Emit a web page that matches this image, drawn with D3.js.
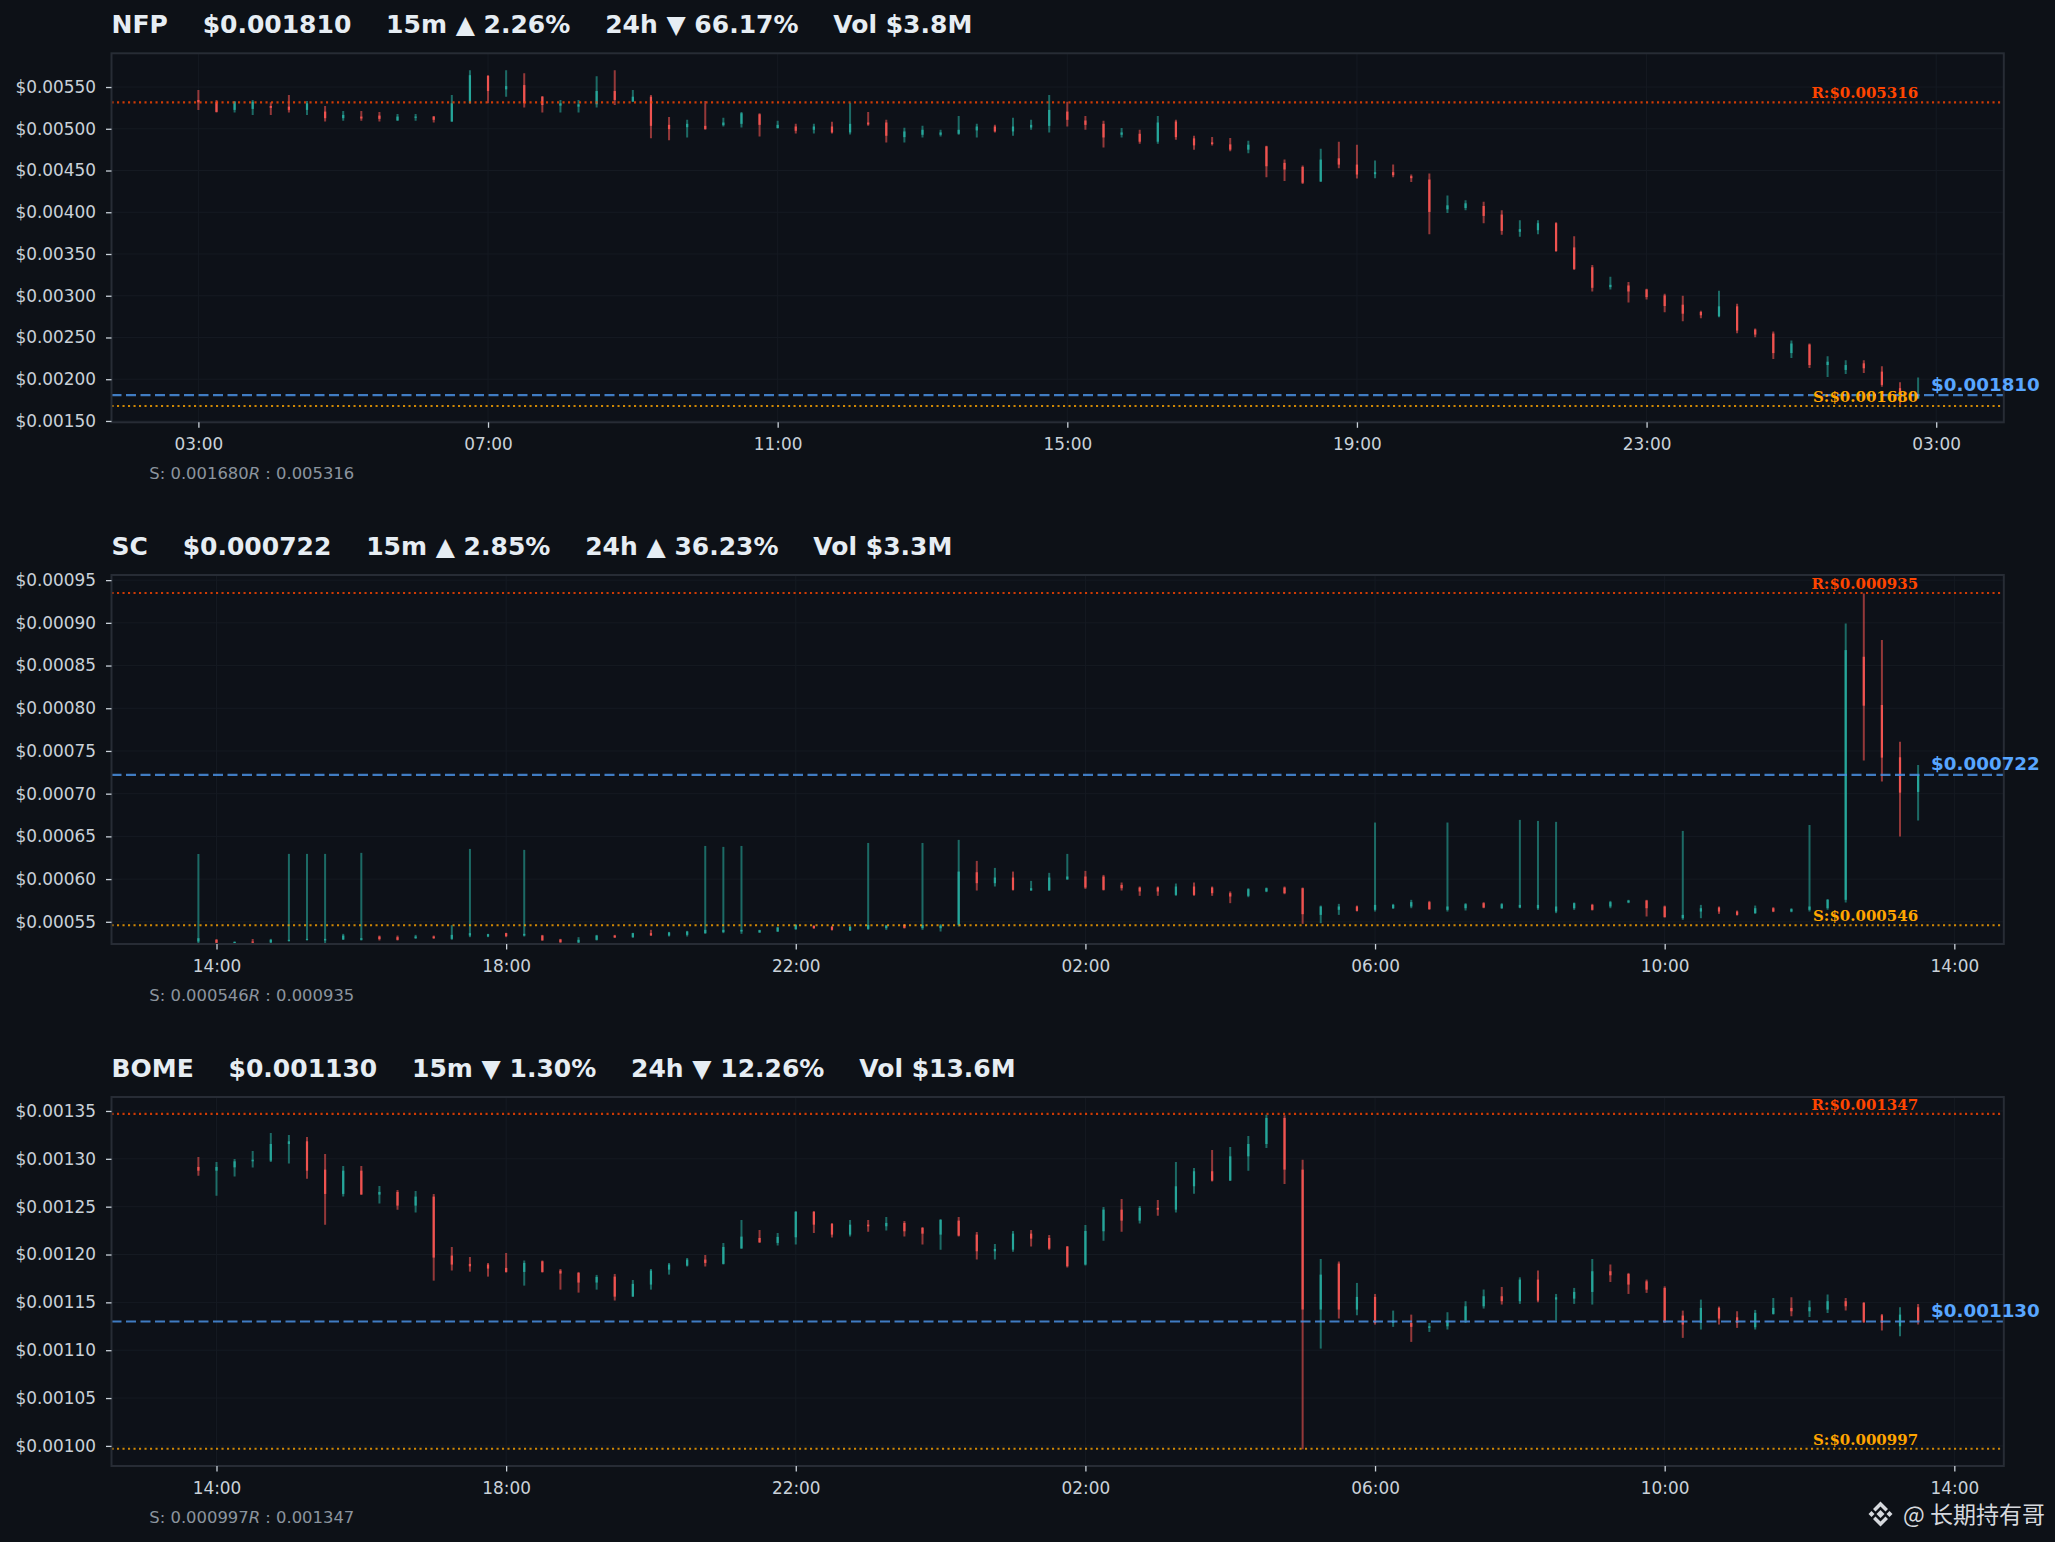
<!DOCTYPE html>
<html><head><meta charset="utf-8">
<script src="https://cdn.jsdelivr.net/npm/d3@7"></script>
<style>
html,body{margin:0;padding:0;background:#0d1117;}
svg{display:block;}
</style></head>
<body>
<svg id="chart" width="2055" height="1542"></svg>
<script>
// ---------------- DATA ----------------
const symbols = ["NFP", "SC", "BOME"];
const titles = [
  "NFP    $0.001810    15m \u25B2 2.26%    24h \u25BC 66.17%    Vol $3.8M",
  "SC    $0.000722    15m \u25B2 2.85%    24h \u25B2 36.23%    Vol $3.3M",
  "BOME    $0.001130    15m \u25BC 1.30%    24h \u25BC 12.26%    Vol $13.6M"
];
const lastPrices = [0.001810, 0.000722, 0.001130];
const supports = [0.001680, 0.000546, 0.000997];
const resistances = [0.005316, 0.000935, 0.001347];
const srTexts = [["0.001680", "0.005316"], ["0.000546", "0.000935"], ["0.000997", "0.001347"]];
const firstCandle = ["2024-01-01T03:00", "2024-01-01T13:45", "2024-01-01T13:45"];
const yDomains = [[0.001484, 0.005904], [0.000524, 0.000956], [0.000979, 0.0013646]];
const nfpYTicks = [0.0015, 0.0020, 0.0025, 0.0030, 0.0035, 0.0040, 0.0045, 0.0050, 0.0055];
const scYTicks = [0.00055, 0.00060, 0.00065, 0.00070, 0.00075, 0.00080, 0.00085, 0.00090, 0.00095];
const bomeYTicks = [0.00100, 0.00105, 0.00110, 0.00115, 0.00120, 0.00125, 0.00130, 0.00135];

const nfpOpen = [0.005345,0.005325,0.005226,0.005238,0.005273,0.005265,0.005226,0.005206,0.005127,0.005146,
0.005158,0.005099,0.005131,0.005146,0.005087,0.005305,0.005634,0.005472,0.005523,0.005384,
0.005277,0.005265,0.005293,0.005452,0.005325,0.005384,0.005047,0.005019,0.005035,0.005043,
0.005059,0.005174,0.005008,0.005027,0.004988,0.005027,0.004956,0.005075,0.005075,0.004900,
0.004928,0.004928,0.004940,0.004980,0.005027,0.004968,0.005015,0.005035,0.005206,0.005099,
0.005059,0.004928,0.004940,0.004845,0.005087,0.004885,0.004837,0.004813,0.004750,0.004789,
0.004591,0.004543,0.004369,0.004646,0.004571,0.004456,0.004480,0.004432,0.004392,0.004035,
0.004051,0.004075,0.003972,0.003766,0.003785,0.003869,0.003579,0.003341,0.003103,0.003123,
0.003075,0.003004,0.002893,0.002805,0.002754,0.002873,0.002595,0.002547,0.002313,0.002416,
0.002170,0.002111,0.002190,0.002091,0.001893,0.001770];
const nfpHigh = [0.005464,0.005345,0.005333,0.005345,0.005317,0.005404,0.005333,0.005273,0.005214,0.005214,
0.005202,0.005178,0.005178,0.005154,0.005404,0.005702,0.005642,0.005702,0.005666,0.005392,
0.005345,0.005345,0.005630,0.005702,0.005464,0.005404,0.005142,0.005107,0.005333,0.005131,
0.005202,0.005186,0.005095,0.005059,0.005059,0.005083,0.005313,0.005202,0.005107,0.005011,
0.005035,0.004988,0.005154,0.005059,0.005047,0.005131,0.005107,0.005404,0.005325,0.005154,
0.005095,0.005008,0.004988,0.005154,0.005107,0.004916,0.004900,0.004888,0.004857,0.004797,
0.004631,0.004559,0.004762,0.004845,0.004809,0.004619,0.004571,0.004452,0.004464,0.004202,
0.004143,0.004127,0.004023,0.003904,0.003904,0.003881,0.003714,0.003369,0.003226,0.003166,
0.003083,0.003024,0.003000,0.002821,0.003059,0.002904,0.002607,0.002571,0.002464,0.002428,
0.002274,0.002226,0.002226,0.002155,0.001964,0.002020];
const nfpLow = [0.005226,0.005194,0.005194,0.005166,0.005166,0.005194,0.005166,0.005087,0.005095,0.005095,
0.005087,0.005095,0.005095,0.005075,0.005083,0.005305,0.005305,0.005384,0.005254,0.005194,
0.005194,0.005194,0.005254,0.005285,0.005325,0.004885,0.004861,0.004896,0.004988,0.005027,
0.005015,0.004908,0.005004,0.004944,0.004944,0.004944,0.004932,0.005035,0.004837,0.004837,
0.004896,0.004908,0.004928,0.004896,0.004956,0.004916,0.004988,0.004956,0.005027,0.004988,
0.004777,0.004896,0.004821,0.004821,0.004869,0.004750,0.004801,0.004730,0.004706,0.004420,
0.004373,0.004337,0.004361,0.004527,0.004404,0.004408,0.004420,0.004361,0.003738,0.003992,
0.004023,0.003869,0.003730,0.003706,0.003738,0.003527,0.003309,0.003051,0.003075,0.002920,
0.002956,0.002801,0.002694,0.002730,0.002742,0.002551,0.002504,0.002242,0.002254,0.002135,
0.002028,0.002063,0.002075,0.001909,0.001694,0.001765];
const nfpClose = [0.005317,0.005202,0.005325,0.005325,0.005250,0.005226,0.005305,0.005127,0.005166,0.005123,
0.005119,0.005146,0.005146,0.005107,0.005305,0.005642,0.005452,0.005511,0.005305,0.005285,
0.005305,0.005293,0.005452,0.005345,0.005384,0.005035,0.004996,0.005059,0.004996,0.005075,
0.005186,0.005047,0.005047,0.004976,0.005027,0.004956,0.005059,0.005051,0.004916,0.004968,
0.004988,0.004956,0.004988,0.005027,0.004968,0.005027,0.005047,0.005226,0.005107,0.005047,
0.004896,0.004956,0.004845,0.005075,0.004900,0.004801,0.004817,0.004750,0.004809,0.004551,
0.004512,0.004353,0.004631,0.004571,0.004452,0.004480,0.004444,0.004408,0.004004,0.004083,
0.004107,0.003956,0.003777,0.003797,0.003869,0.003535,0.003321,0.003095,0.003131,0.003051,
0.002984,0.002877,0.002785,0.002766,0.002873,0.002583,0.002535,0.002313,0.002428,0.002170,
0.002210,0.002170,0.002131,0.001932,0.001770,0.001810];

const scOpen = [0.0005269,0.0005289,0.0005250,0.0005269,0.0005258,0.0005277,0.0005289,0.0005281,0.0005292,0.0005289,
0.0005328,0.0005320,0.0005308,0.0005328,0.0005300,0.0005339,0.0005328,0.0005367,0.0005339,0.0005339,
0.0005293,0.0005258,0.0005289,0.0005339,0.0005320,0.0005367,0.0005339,0.0005347,0.0005367,0.0005379,
0.0005386,0.0005375,0.0005386,0.0005414,0.0005453,0.0005441,0.0005398,0.0005417,0.0005425,0.0005464,
0.0005425,0.0005425,0.0005464,0.0006080,0.0005952,0.0006018,0.0005866,0.0005866,0.0005995,0.0006030,
0.0006030,0.0005932,0.0005901,0.0005901,0.0005815,0.0005913,0.0005901,0.0005835,0.0005804,0.0005855,
0.0005901,0.0005893,0.0005581,0.0005640,0.0005679,0.0005640,0.0005659,0.0005679,0.0005730,0.0005640,
0.0005659,0.0005718,0.0005659,0.0005667,0.0005659,0.0005620,0.0005659,0.0005698,0.0005679,0.0005726,
0.0005749,0.0005679,0.0005542,0.0005620,0.0005667,0.0005620,0.0005601,0.0005659,0.0005620,0.0005640,
0.0005659,0.0005757,0.0008603,0.0008038,0.0007426,0.0007020];
const scHigh = [0.0006295,0.0005300,0.0005270,0.0005300,0.0005300,0.0006295,0.0006295,0.0006295,0.0005359,0.0006307,
0.0005339,0.0005339,0.0005347,0.0005339,0.0005460,0.0006353,0.0005359,0.0005371,0.0006342,0.0005347,
0.0005300,0.0005320,0.0005347,0.0005347,0.0005371,0.0005406,0.0005382,0.0005394,0.0006388,0.0006377,
0.0006388,0.0005406,0.0005441,0.0005472,0.0005457,0.0005453,0.0005453,0.0006423,0.0005464,0.0005472,
0.0006423,0.0005472,0.0006459,0.0006213,0.0006131,0.0006088,0.0005979,0.0006073,0.0006295,0.0006096,
0.0006049,0.0005960,0.0005913,0.0005913,0.0005948,0.0005960,0.0005913,0.0005855,0.0005893,0.0005901,
0.0005913,0.0005901,0.0005690,0.0005710,0.0005690,0.0006662,0.0005710,0.0005757,0.0005745,0.0006662,
0.0005718,0.0005730,0.0005718,0.0006693,0.0006681,0.0006670,0.0005726,0.0005710,0.0005745,0.0005757,
0.0005757,0.0005690,0.0006564,0.0005698,0.0005679,0.0005632,0.0005690,0.0005671,0.0005659,0.0006634,
0.0005768,0.0008993,0.0009344,0.0008798,0.0007609,0.0007336];
const scLow = [0.0005230,0.0005235,0.0005235,0.0005240,0.0005240,0.0005269,0.0005281,0.0005235,0.0005289,0.0005281,
0.0005281,0.0005281,0.0005300,0.0005300,0.0005289,0.0005320,0.0005320,0.0005320,0.0005328,0.0005281,
0.0005258,0.0005250,0.0005281,0.0005312,0.0005312,0.0005339,0.0005328,0.0005328,0.0005359,0.0005367,
0.0005359,0.0005371,0.0005382,0.0005406,0.0005418,0.0005398,0.0005394,0.0005406,0.0005406,0.0005421,
0.0005406,0.0005386,0.0005445,0.0005866,0.0005913,0.0005866,0.0005866,0.0005866,0.0005995,0.0005885,
0.0005866,0.0005866,0.0005804,0.0005804,0.0005804,0.0005804,0.0005804,0.0005718,0.0005788,0.0005847,
0.0005823,0.0005476,0.0005484,0.0005581,0.0005621,0.0005620,0.0005651,0.0005659,0.0005640,0.0005620,
0.0005632,0.0005659,0.0005651,0.0005659,0.0005640,0.0005601,0.0005640,0.0005632,0.0005659,0.0005718,
0.0005562,0.0005550,0.0005523,0.0005542,0.0005593,0.0005573,0.0005593,0.0005613,0.0005613,0.0005620,
0.0005640,0.0005726,0.0007387,0.0007141,0.0006498,0.0006685];
const scClose = [0.0005308,0.0005254,0.0005265,0.0005254,0.0005289,0.0005289,0.0005300,0.0005300,0.0005339,0.0005308,
0.0005297,0.0005289,0.0005328,0.0005308,0.0005347,0.0005367,0.0005355,0.0005332,0.0005359,0.0005281,
0.0005258,0.0005289,0.0005339,0.0005316,0.0005367,0.0005339,0.0005375,0.0005386,0.0005406,0.0005406,
0.0005406,0.0005402,0.0005433,0.0005464,0.0005425,0.0005406,0.0005441,0.0005464,0.0005457,0.0005429,
0.0005464,0.0005457,0.0006088,0.0005952,0.0006018,0.0005874,0.0005893,0.0006018,0.0006030,0.0005901,
0.0005874,0.0005893,0.0005855,0.0005855,0.0005913,0.0005815,0.0005835,0.0005796,0.0005882,0.0005893,
0.0005835,0.0005589,0.0005679,0.0005679,0.0005628,0.0005698,0.0005698,0.0005730,0.0005648,0.0005679,
0.0005706,0.0005667,0.0005706,0.0005698,0.0005698,0.0005679,0.0005718,0.0005640,0.0005730,0.0005749,
0.0005659,0.0005554,0.0005581,0.0005659,0.0005620,0.0005581,0.0005659,0.0005620,0.0005648,0.0005679,
0.0005757,0.0008681,0.0008030,0.0007422,0.0007012,0.0007220];

const bomeOpen = [0.0012915,0.0012876,0.0012911,0.0012974,0.0012981,0.0013155,0.0013183,0.0012887,0.0012633,0.0012876,
0.0012626,0.0012654,0.0012511,0.0012605,0.0011989,0.0011902,0.0011895,0.0011860,0.0011818,0.0011929,
0.0011832,0.0011808,0.0011707,0.0011769,0.0011560,0.0011686,0.0011842,0.0011884,0.0011947,0.0011902,
0.0012062,0.0012173,0.0012121,0.0012180,0.0012445,0.0012319,0.0012208,0.0012312,0.0012295,0.0012330,
0.0012278,0.0012208,0.0012354,0.0012208,0.0012034,0.0012051,0.0012218,0.0012173,0.0012083,0.0011895,
0.0012243,0.0012469,0.0012354,0.0012487,0.0012469,0.0012713,0.0012870,0.0012772,0.0013026,0.0013155,
0.0013427,0.0012887,0.0011425,0.0011905,0.0011425,0.0011557,0.0011285,0.0011285,0.0011233,0.0011250,
0.0011310,0.0011459,0.0011564,0.0011512,0.0011738,0.0011529,0.0011539,0.0011609,0.0011825,0.0011797,
0.0011720,0.0011651,0.0011362,0.0011285,0.0011442,0.0011344,0.0011240,0.0011379,0.0011442,0.0011407,
0.0011425,0.0011512,0.0011494,0.0011365,0.0011250,0.0011449];
const bomeHigh = [0.0013019,0.0012967,0.0012998,0.0013082,0.0013270,0.0013249,0.0013228,0.0013051,0.0012925,0.0012925,
0.0012716,0.0012675,0.0012664,0.0012633,0.0012079,0.0011975,0.0011912,0.0012016,0.0011937,0.0011937,
0.0011849,0.0011818,0.0011787,0.0011797,0.0011734,0.0011849,0.0011912,0.0011964,0.0011996,0.0012121,
0.0012361,0.0012257,0.0012225,0.0012455,0.0012455,0.0012330,0.0012361,0.0012361,0.0012393,0.0012351,
0.0012288,0.0012372,0.0012393,0.0012236,0.0012111,0.0012246,0.0012257,0.0012205,0.0012090,0.0012309,
0.0012497,0.0012581,0.0012507,0.0012570,0.0012967,0.0012904,0.0013092,0.0013124,0.0013239,0.0013461,
0.0013454,0.0012991,0.0011954,0.0011926,0.0011703,0.0011588,0.0011414,0.0011372,0.0011285,0.0011397,
0.0011512,0.0011634,0.0011661,0.0011762,0.0011832,0.0011588,0.0011651,0.0011954,0.0011895,0.0011808,
0.0011738,0.0011668,0.0011414,0.0011529,0.0011456,0.0011407,0.0011421,0.0011546,0.0011553,0.0011519,
0.0011581,0.0011546,0.0011505,0.0011379,0.0011449,0.0011484];
const bomeLow = [0.0012824,0.0012615,0.0012814,0.0012908,0.0012967,0.0012950,0.0012793,0.0012312,0.0012605,0.0012626,
0.0012532,0.0012469,0.0012438,0.0011727,0.0011832,0.0011821,0.0011769,0.0011811,0.0011675,0.0011811,
0.0011633,0.0011602,0.0011633,0.0011519,0.0011560,0.0011633,0.0011790,0.0011874,0.0011874,0.0011895,
0.0012062,0.0012121,0.0012093,0.0012104,0.0012225,0.0012177,0.0012188,0.0012239,0.0012250,0.0012187,
0.0012104,0.0012051,0.0012187,0.0011947,0.0011947,0.0012030,0.0012083,0.0012051,0.0011863,0.0011884,
0.0012145,0.0012239,0.0012323,0.0012406,0.0012438,0.0012636,0.0012762,0.0012772,0.0012876,0.0013113,
0.0012737,0.0009966,0.0011017,0.0011331,0.0011365,0.0011268,0.0011244,0.0011087,0.0011191,0.0011216,
0.0011285,0.0011435,0.0011477,0.0011484,0.0011501,0.0011310,0.0011484,0.0011477,0.0011713,0.0011588,
0.0011599,0.0011285,0.0011129,0.0011216,0.0011268,0.0011233,0.0011216,0.0011372,0.0011355,0.0011348,
0.0011390,0.0011414,0.0011285,0.0011205,0.0011146,0.0011268];
const bomeClose = [0.0012876,0.0012915,0.0012974,0.0012991,0.0013155,0.0013183,0.0012876,0.0012633,0.0012876,0.0012626,
0.0012654,0.0012511,0.0012605,0.0011968,0.0011895,0.0011877,0.0011853,0.0011818,0.0011912,0.0011818,
0.0011801,0.0011707,0.0011766,0.0011560,0.0011693,0.0011832,0.0011895,0.0011947,0.0011912,0.0012079,
0.0012187,0.0012128,0.0012184,0.0012445,0.0012312,0.0012208,0.0012312,0.0012295,0.0012330,0.0012243,
0.0012218,0.0012361,0.0012197,0.0012034,0.0012058,0.0012218,0.0012166,0.0012062,0.0011877,0.0012246,
0.0012469,0.0012354,0.0012487,0.0012469,0.0012713,0.0012870,0.0012772,0.0013026,0.0013155,0.0013427,
0.0012887,0.0011425,0.0011790,0.0011425,0.0011557,0.0011285,0.0011310,0.0011244,0.0011250,0.0011310,
0.0011459,0.0011564,0.0011512,0.0011738,0.0011519,0.0011553,0.0011609,0.0011825,0.0011783,0.0011686,
0.0011633,0.0011303,0.0011268,0.0011442,0.0011331,0.0011285,0.0011390,0.0011442,0.0011407,0.0011449,
0.0011512,0.0011459,0.0011296,0.0011285,0.0011372,0.0011300];

const watermark = "@ \u957F\u671F\u6301\u6709\u54E5";

// -------------- LAYOUT / STYLE --------------
const W = 2055, H = 1542;
const plotLeft = 111.5, plotRight = 2003.8;
const panelTops = [53.3, 575, 1097];
const panelH = 369;
const UP = "#26a69a", DOWN = "#ef5350";
const BG = "#0d1117";
const TXT = "#c9d1d9";

const panels = [
  {o: nfpOpen, h: nfpHigh, l: nfpLow, c: nfpClose, yt: nfpYTicks},
  {o: scOpen, h: scHigh, l: scLow, c: scClose, yt: scYTicks},
  {o: bomeOpen, h: bomeHigh, l: bomeLow, c: bomeClose, yt: bomeYTicks}
];

const svg = d3.select("#chart");
svg.append("rect").attr("width", W).attr("height", H).attr("fill", BG);

const parse = d3.timeParse("%Y-%m-%dT%H:%M");
const fmtY = d3.format(".5f");

panels.forEach((p, k) => {
  const top = panelTops[k], bottom = top + panelH;
  const n = p.o.length;
  const start = parse(firstCandle[k]);
  const times = p.o.map((_, i) => d3.timeMinute.offset(start, 15 * i));
  const x = d3.scaleTime()
    .domain([d3.timeMinute.offset(start, -15 * 4.75), d3.timeMinute.offset(start, 15 * (n - 1 + 4.75))])
    .range([plotLeft, plotRight]);
  const y = d3.scaleLinear().domain(yDomains[k]).range([bottom, top]);
  const xTicks = d3.timeHour.range(d3.timeHour.ceil(start), x.domain()[1], 4);

  const g = svg.append("g");

  // plot background
  g.append("rect").attr("x", plotLeft).attr("y", top)
    .attr("width", plotRight - plotLeft).attr("height", panelH).attr("fill", "#0d1118");

  // grid
  g.append("g").selectAll("line").data(p.yt).join("line")
    .attr("x1", plotLeft).attr("x2", plotRight)
    .attr("y1", d => y(d)).attr("y2", d => y(d))
    .attr("stroke", "#151a22").attr("stroke-width", 1);
  g.append("g").selectAll("line").data(xTicks).join("line")
    .attr("x1", d => x(d)).attr("x2", d => x(d))
    .attr("y1", top).attr("y2", bottom)
    .attr("stroke", "#151a22").attr("stroke-width", 1);

  // clip
  const cid = "clip" + k;
  svg.append("clipPath").attr("id", cid).append("rect")
    .attr("x", plotLeft).attr("y", top).attr("width", plotRight - plotLeft).attr("height", panelH);

  const cg = g.append("g").attr("clip-path", `url(#${cid})`);

  const idx = d3.range(n);
  // wicks
  cg.append("g").selectAll("line").data(idx).join("line")
    .attr("x1", i => x(times[i])).attr("x2", i => x(times[i]))
    .attr("y1", i => y(p.h[i])).attr("y2", i => y(p.l[i]))
    .attr("stroke", i => p.c[i] >= p.o[i] ? UP : DOWN)
    .attr("stroke-opacity", 0.6)
    .attr("stroke-width", 2);
  // bodies
  cg.append("g").selectAll("rect").data(idx).join("rect")
    .attr("x", i => x(times[i]) - 1.1)
    .attr("width", 2.2)
    .attr("y", i => y(Math.max(p.o[i], p.c[i])))
    .attr("height", i => Math.max(1, Math.abs(y(p.o[i]) - y(p.c[i]))))
    .attr("fill", i => p.c[i] >= p.o[i] ? UP : DOWN);

  // horizontal level lines
  const lines = [
    {v: resistances[k], color: "#ff4500", dash: "2.1,3.4", w: 2.1, op: 0.8},
    {v: supports[k], color: "#ffa500", dash: "2.1,3.4", w: 2.1, op: 0.8},
    {v: lastPrices[k], color: "#4a8fe0", dash: "10,4.5", w: 2.1, op: 0.85}
  ];
  g.append("g").selectAll("line").data(lines).join("line")
    .attr("x1", plotLeft).attr("x2", plotRight)
    .attr("y1", d => y(d.v)).attr("y2", d => y(d.v))
    .attr("stroke", d => d.color).attr("stroke-width", d => d.w)
    .attr("stroke-dasharray", d => d.dash).attr("stroke-opacity", d => d.op);

  // frame
  g.append("rect").attr("x", plotLeft).attr("y", top)
    .attr("width", plotRight - plotLeft).attr("height", panelH)
    .attr("fill", "none").attr("stroke", "#272c35").attr("stroke-width", 2);

  // axes
  const ya = d3.axisLeft(y).tickValues(p.yt).tickFormat(d => "$" + fmtY(d)).tickSize(5.5).tickPadding(10);
  const yg = g.append("g").attr("transform", `translate(${plotLeft},0)`).attr("color", TXT).call(ya);
  yg.select(".domain").remove();
  yg.selectAll(".tick line").attr("stroke-width", 1.3);
  yg.selectAll(".tick text").style("font-family", "'DejaVu Sans'").style("font-size", "16.9px").attr("fill", TXT);

  const xa = d3.axisBottom(x).tickValues(xTicks).tickFormat(d3.timeFormat("%H:%M")).tickSize(5.5).tickPadding(10.3);
  const xg = g.append("g").attr("transform", `translate(0,${bottom})`).attr("color", TXT).call(xa);
  xg.select(".domain").remove();
  xg.selectAll(".tick line").attr("stroke-width", 1.3);
  xg.selectAll(".tick text").style("font-family", "'DejaVu Sans'").style("font-size", "16.9px").attr("fill", TXT);

  // level labels
  const lastX = x(times[n - 1]);
  g.append("text").attr("x", lastX).attr("y", y(resistances[k]) - 4)
    .attr("text-anchor", "end").attr("fill", "#ff4500")
    .style("font-family", "'DejaVu Serif'").style("font-weight", "bold").style("font-size", "15px")
    .text("R:$" + resistances[k].toFixed(6));
  g.append("text").attr("x", lastX).attr("y", y(supports[k]) - 4)
    .attr("text-anchor", "end").attr("fill", "#ffa500")
    .style("font-family", "'DejaVu Serif'").style("font-weight", "bold").style("font-size", "15px")
    .text("S:$" + supports[k].toFixed(6));
  g.append("text").attr("x", lastX + 13).attr("y", y(lastPrices[k]) - 4.5)
    .attr("fill", "#58a6ff")
    .style("font-family", "'DejaVu Sans'").style("font-weight", "bold").style("font-size", "18.3px")
    .text("$" + lastPrices[k].toFixed(6));

  // title
  g.append("text").attr("x", plotLeft).attr("y", top - 20)
    .attr("xml:space", "preserve").style("white-space", "pre")
    .attr("fill", "#e6edf3")
    .style("font-family", "'DejaVu Sans'").style("font-weight", "bold").style("font-size", "25px")
    .text(titles[k]);

  // S/R caption (mathtext-like rendering)
  const cap = g.append("text").attr("x", plotLeft + 0.02 * (plotRight - plotLeft)).attr("y", bottom + 57)
    .attr("xml:space", "preserve").style("white-space", "pre")
    .attr("fill", "#8b949e")
    .style("font-family", "'DejaVu Sans'").style("font-size", "16.4px");
  cap.append("tspan").text("S: " + srTexts[k][0]);
  cap.append("tspan").style("font-style", "italic").text("R");
  cap.append("tspan").text(" : " + srTexts[k][1]);
});

// watermark
const wm = svg.append("g").attr("transform", "translate(1880.5,1514)").attr("fill", "#d6d9de");
wm.append("path").attr("d", "M0,-4 L4,0 L0,4 L-4,0 Z");
wm.append("path").attr("d", "M-9,-3 L-6,0 L-9,3 L-12,0 Z");
wm.append("path").attr("d", "M9,-3 L12,0 L9,3 L6,0 Z");
wm.append("path").attr("d", "M0,-12.5 L7.5,-5 L5,-2.5 L0,-7.5 L-5,-2.5 L-7.5,-5 Z");
wm.append("path").attr("d", "M0,12.5 L7.5,5 L5,2.5 L0,7.5 L-5,2.5 L-7.5,5 Z");
svg.append("text").attr("x", 1903).attr("y", 1523)
  .attr("fill", "#d6d9de")
  .style("font-family", "'Noto Sans CJK SC'").style("font-size", "23px")
  .text(watermark);
</script>
</body></html>
